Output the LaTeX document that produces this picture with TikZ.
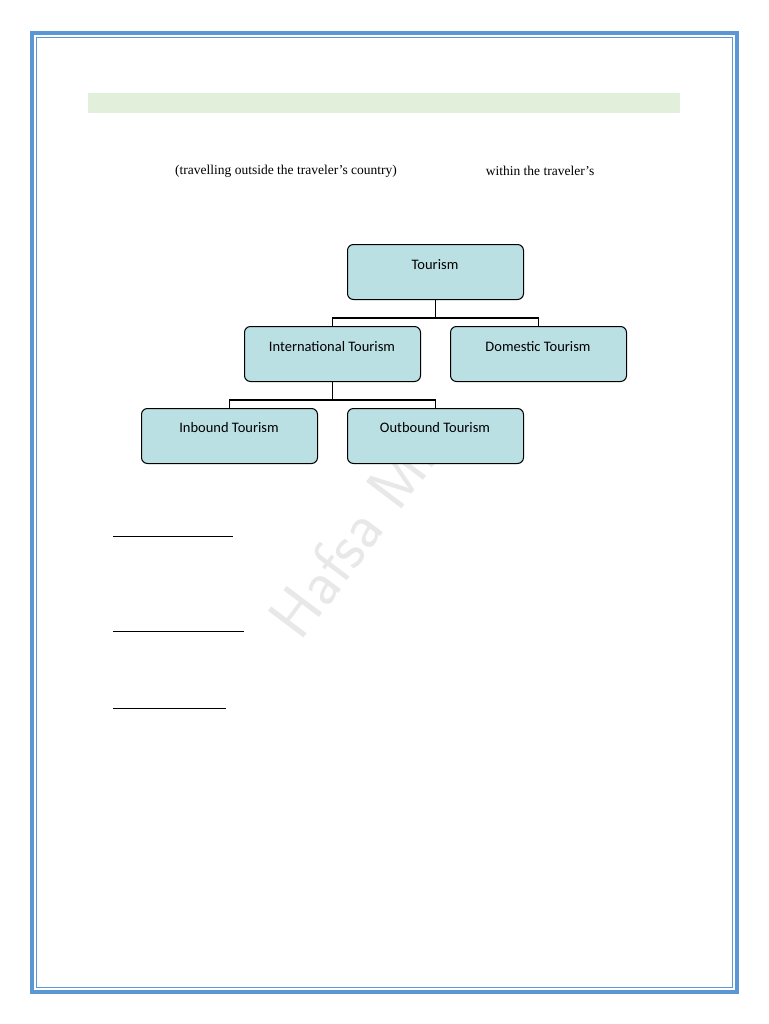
\documentclass[tikz,border=0pt]{standalone}
\usepackage{fontspec}
\setmainfont{Liberation Serif}
\newfontfamily\boxfont{Carlito}
\begin{document}
\begin{tikzpicture}[x=1pt,y=-1pt,
  tbox/.style={draw=black,fill={rgb,255:red,186;green,224;blue,228},rounded corners=6pt,minimum width=176pt,minimum height=55pt,line width=1pt,anchor=north west,inner sep=0pt},
  blab/.style={font=\boxfont\fontsize{14.5}{16}\selectfont},
  conn/.style={line width=1.8pt},
  uline/.style={line width=1pt}]
\useasboundingbox (0,0) rectangle (768,1024);
\fill[white] (0,0) rectangle (768,1024);
\draw[line width=3.5pt,color={rgb,255:red,91;green,150;blue,213}] (32,33) rectangle (737,992);
\draw[line width=1pt,color={rgb,255:red,91;green,150;blue,213}] (36.5,37.5) rectangle (732.5,987.5);
\fill[color={rgb,255:red,226;green,239;blue,218}] (88,93) rectangle (680,113);
\node[font=\fontsize{13.5}{15}\selectfont] (t1) at (286,171) {(travelling outside the traveler’s country)};
\node[font=\fontsize{13.5}{15}\selectfont] (t2) at (540,171) {within the traveler’s};
\node[rotate=53,text=gray!18,font=\sffamily\fontsize{64}{64}\selectfont] (wm) at (362,525) {Hafsa Mm};
\node[tbox] (tour) at (347,244) {}; \node[blab] at (435,265) {Tourism};
\node[tbox] (intl) at (244,326) {}; \node[blab] at (332,347) {International Tourism};
\node[tbox] (dom) at (450,326) {}; \node[blab] at (538,347) {Domestic Tourism};
\node[tbox] (inb) at (141,408) {}; \node[blab] at (229,428) {Inbound Tourism};
\node[tbox] (outb) at (347,408) {}; \node[blab] at (435,428) {Outbound Tourism};
\draw[conn] (tour.south) -- ++(0,18) -| (dom.north);
\draw[conn] (tour.south) -- ++(0,18) -| (intl.north);
\draw[conn] (intl.south) -- ++(0,18) -| (inb.north);
\draw[conn] (intl.south) -- ++(0,18) -| (outb.north);
\coordinate (u1a) at (113,536); \coordinate (u1b) at (233,536);
\coordinate (u2a) at (113,631); \coordinate (u2b) at (244,631);
\coordinate (u3a) at (113,708); \coordinate (u3b) at (226,708);
\draw[uline] (u1a) -- (u1b); \draw[uline] (u2a) -- (u2b); \draw[uline] (u3a) -- (u3b);
\end{tikzpicture}
\end{document}
